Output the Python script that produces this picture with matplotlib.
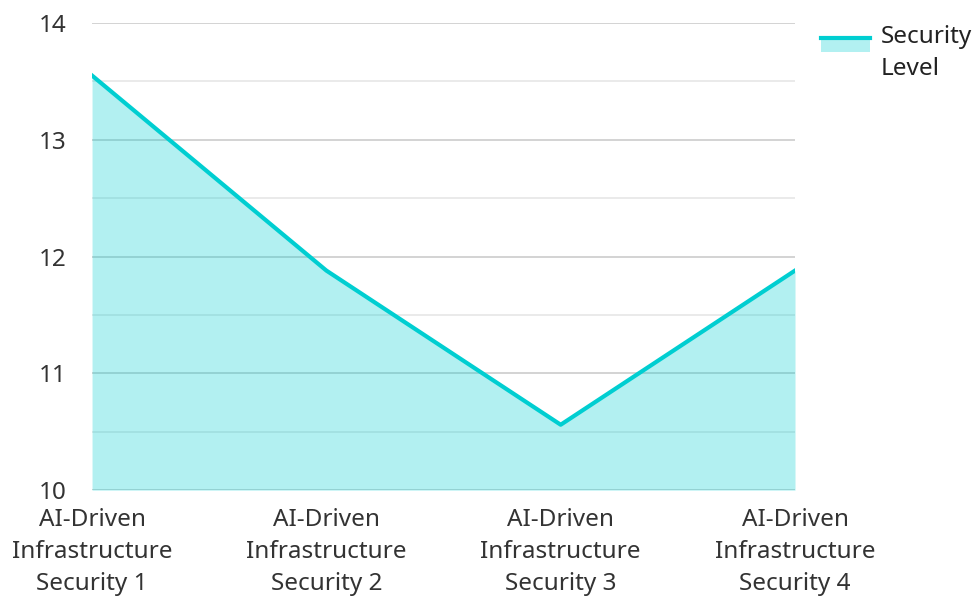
import matplotlib
matplotlib.use("agg")
import matplotlib.pyplot as plt
from matplotlib.patches import Rectangle
from matplotlib.lines import Line2D
from matplotlib.legend_handler import HandlerBase

categories = ["AI-Driven\nInfrastructure\nSecurity 1", "AI-Driven\nInfrastructure\nSecurity 2",
              "AI-Driven\nInfrastructure\nSecurity 3", "AI-Driven\nInfrastructure\nSecurity 4"]
security_level = [13.55, 11.88, 10.56, 11.88]
y_ticks = [10, 11, 12, 13, 14]

plt.rcParams['font.family'] = ['Noto Sans', 'DejaVu Sans']

line_col = "#00CED1"


class AreaHandler(HandlerBase):
    # line across the top of a filled box, like the reference legend
    def create_artists(self, legend, orig, xd, yd, w, h, fs, trans):
        top = yd + h * 1.45
        bot = yd + h * 0.6
        r = Rectangle((xd, bot), w, top - bot, facecolor=line_col, alpha=0.3,
                      edgecolor="none", transform=trans)
        l = Line2D([xd, xd + w], [top, top], color=line_col, linewidth=3, transform=trans)
        return [r, l]


fig = plt.figure(figsize=(9.75, 5.97), dpi=100)
ax = fig.add_axes([0.0944, 0.179, 0.721, 0.7825])

x = list(range(len(categories)))
ax.fill_between(x, 10, security_level, color=line_col, alpha=0.3, linewidth=0, zorder=2)
ax.plot(x, security_level, color=line_col, linewidth=3, zorder=3)

ax.set_xlim(0, 3)
ax.set_ylim(10, 14)
ax.set_yticks(y_ticks)
ax.set_yticks([10.5, 11.5, 12.5, 13.5], minor=True)
ax.set_xticks(x)
ax.set_xticklabels(categories, fontsize=17.5, color="#333333", linespacing=1.45)
ax.tick_params(axis="y", labelsize=17.5, labelcolor="#333333", length=0, pad=18)
ax.tick_params(axis="y", which="minor", length=0)
ax.tick_params(axis="x", length=0, pad=13)
ax.grid(True, axis="y", which="major", color="#cccccc", linewidth=1.2, zorder=1)
ax.grid(True, axis="y", which="minor", color="#e6e6e6", linewidth=1.2, zorder=1)
ax.set_axisbelow(True)
for s in ax.spines.values():
    s.set_visible(False)

leg = ax.legend([object()], ["Security\nLevel"], handler_map={object: AreaHandler()},
                loc="upper left", bbox_to_anchor=(1.006, 1.042), frameon=False, fontsize=17.5,
                handlelength=2.0, handletextpad=0.45, labelspacing=0.2)
for t in leg.get_texts():
    t.set_color("#222222")
    t.set_linespacing(1.45)

fig.savefig("out.png")
